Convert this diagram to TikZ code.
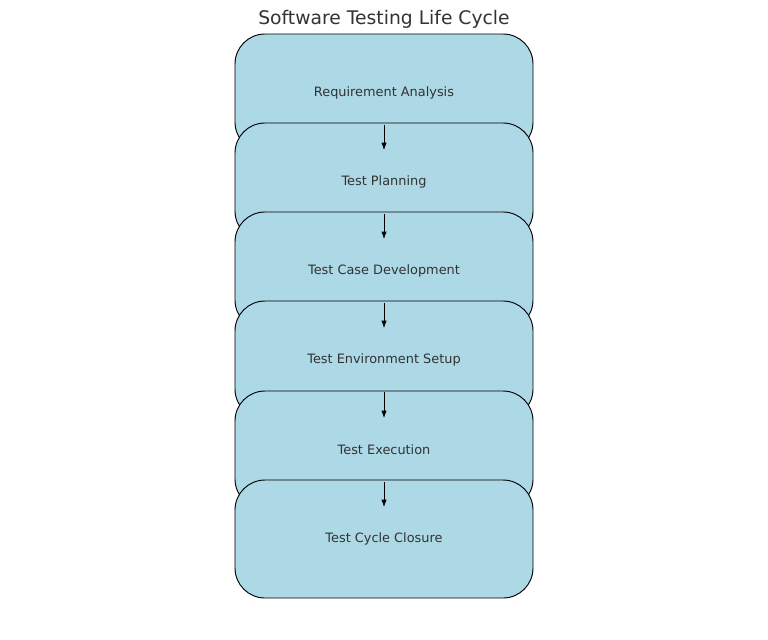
\documentclass[tikz,border=0pt]{standalone}
\usepackage{fontspec}
\setmainfont{DejaVu Sans}
\usetikzlibrary{arrows.meta, positioning}
\definecolor{stepblue}{HTML}{ADD8E6}
\definecolor{steptext}{HTML}{333333}
\tikzset{
  x=0.03cm, y=-0.03cm,
  stage/.style={
    draw=black,
    thick,
    fill=stepblue,
    rounded corners=0.9cm,
    minimum width=8.94cm,
    minimum height=3.54cm,
    text=steptext,
    font=\fontsize{11pt}{13pt}\selectfont
  },
%
  flow/.style={
    draw=black,
    -{Latex[length=2.2mm,width=1.6mm]},
    semithick
  },
}
\begin{document}
\begin{tikzpicture}
\useasboundingbox (0,0) rectangle (768,639);
\node[text=steptext, font=\fontsize{16pt}{19pt}\selectfont] at (384,19) (title) {Software Testing Life Cycle};

\node[stage] at (384,93) (req) {Requirement Analysis};
\node[stage] at (384,182) (plan) {Test Planning};
\node[stage] at (384,271) (dev) {Test Case Development};
\node[stage] at (384,360) (env) {Test Environment Setup};
\node[stage] at (384,450) (exec) {Test Execution};
\node[stage] at (384,539) (close) {Test Cycle Closure};

\foreach \a/\b in {req/plan, plan/dev, dev/env, env/exec, exec/close}
  \draw[flow] ([yshift=-0.96cm]\a.center) -- ([yshift=0.96cm]\b.center);

\end{tikzpicture}
\end{document}
